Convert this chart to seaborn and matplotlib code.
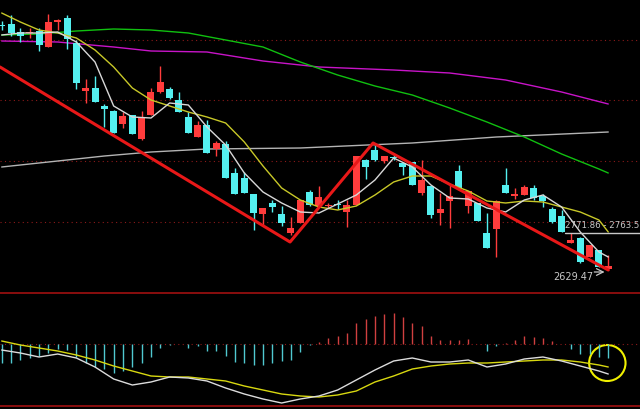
import matplotlib
matplotlib.use("Agg")
import numpy as np
import pandas as pd
import matplotlib.pyplot as plt
from matplotlib.patches import Ellipse
import seaborn as sns

# daily candles (red = up, cyan = down)
opens = [3610, 3614, 3582, 3578, 3586, 3522, 3622, 3638, 3538, 3346, 3358, 3286, 3266, 3214, 3250, 3154,
         3250, 3342, 3354, 3310, 3242, 3162, 3210, 3114, 3134, 3018, 2998, 2934, 2854, 2898, 2854, 2778,
         2818, 2942, 2886, 2888, 2892, 2862, 2890, 3070, 3110, 3066, 3082, 3058, 3062, 2938, 2966, 2858,
         2906, 3026, 2886, 2898, 2778, 2794, 2970, 2926, 2930, 2958, 2926, 2874, 2846, 2738, 2758, 2682,
         2710, 2634]
closes = [3608, 3578, 3566, 3582, 3530, 3622, 3630, 3554, 3378, 3358, 3302, 3274, 3178, 3246, 3174, 3238,
          3342, 3382, 3318, 3262, 3178, 3210, 3098, 3138, 2998, 2934, 2938, 2858, 2878, 2882, 2818, 2798,
          2910, 2890, 2922, 2892, 2890, 2890, 3086, 3042, 3070, 3086, 3080, 3042, 2970, 2990, 2850, 2874,
          2926, 2958, 2946, 2826, 2718, 2906, 2938, 2934, 2962, 2918, 2906, 2822, 2782, 2750, 2662, 2730,
          2642, 2646]
highs = [3626, 3650, 3598, 3598, 3598, 3654, 3634, 3650, 3550, 3394, 3406, 3294, 3270, 3262, 3250, 3266,
         3358, 3446, 3362, 3342, 3262, 3226, 3230, 3146, 3146, 3038, 3022, 2934, 2878, 2910, 2886, 2842,
         2910, 2950, 2966, 2900, 2910, 2910, 3086, 3074, 3138, 3086, 3090, 3058, 3062, 3070, 2966, 2938,
         2970, 3050, 2946, 2898, 2858, 2910, 3038, 2958, 2970, 2970, 2934, 2882, 2870, 2778, 2762, 2730,
         2710, 2690]
lows = [3590, 3566, 3542, 3558, 3506, 3522, 3590, 3514, 3354, 3298, 3302, 3202, 3178, 3198, 3174, 3150,
        3250, 3338, 3314, 3262, 3178, 3162, 3098, 3086, 2998, 2934, 2938, 2790, 2806, 2862, 2806, 2770,
        2818, 2886, 2882, 2878, 2874, 2802, 2890, 2994, 3066, 3058, 3072, 3010, 2970, 2930, 2838, 2810,
        2798, 2954, 2858, 2826, 2718, 2682, 2938, 2914, 2930, 2910, 2882, 2818, 2782, 2738, 2658, 2682,
        2642, 2630]

# moving averages read at every second candle
ma_idx = [0, 2, 4, 6, 8, 10, 12, 14, 16, 18, 20, 22, 24, 26, 28, 30, 32, 34, 36, 38, 40, 42, 44, 46,
          48, 50, 52, 54, 56, 58, 60, 62, 64, 65]
ma5 = [3570, 3578, 3578, 3582, 3542, 3462, 3286, 3242, 3238, 3298, 3290, 3202, 3130, 3018, 2942, 2898,
       2862, 2858, 2894, 2930, 2990, 3078, 3042, 2970, 2918, 2914, 2878, 2862, 2910, 2930, 2882, 2782,
       2702, 2682]
ma10 = [3658, 3622, 3590, 3578, 3558, 3510, 3442, 3358, 3310, 3286, 3262, 3242, 3218, 3142, 3046, 2958,
        2910, 2882, 2870, 2886, 2930, 2982, 3006, 3006, 2974, 2946, 2906, 2898, 2906, 2902, 2882, 2862,
        2830, 2782]
ma60_idx = [0, 4, 8, 12, 16, 20, 24, 28, 32, 36, 40, 44, 48, 52, 56, 60, 64, 65]
ma60 = [3570, 3574, 3586, 3594, 3590, 3578, 3550, 3522, 3462, 3410, 3366, 3330, 3278, 3222, 3162, 3094,
        3034, 3018]
ma120_idx = [0, 6, 12, 16, 22, 28, 34, 42, 48, 54, 60, 65]
ma120 = [3546, 3542, 3522, 3506, 3502, 3466, 3442, 3430, 3418, 3390, 3342, 3294]
ma250_idx = [0, 5, 11, 16, 22, 32, 44, 53, 65]
ma250 = [3042, 3062, 3086, 3102, 3114, 3118, 3138, 3162, 3182]

# hand-drawn trend line
trend_idx = [-0.18, 30.9, 39.8, 65.0]
trend_val = [3442, 2742, 3138, 2630]
grid_levels = [3550, 3310, 3066, 2822]

# MACD panel
macd_hist = [-38, -38, -32, -28, -24, -18, -10, -12, -26, -38, -46, -50, -58, -54, -46, -38,
             -26, -8, -2, 1, -8, -4, -14, -14, -24, -36, -38, -42, -42, -38, -34, -32,
             -16, -1, 4, 12, 16, 22, 42, 50, 56, 60, 62, 54, 42, 36, 16, 8,
             8, 8, 10, 0, -14, -4, 2, 8, 16, 14, 12, 6, 1, -10, -20, -20,
             -26, -28]
dif = [-12, -18, -26, -20, -28, -46, -70, -82, -76, -66, -68, -74, -88, -100, -110, -118, -110, -104,
       -92, -72, -52, -34, -28, -36, -36, -32, -46, -40, -30, -26, -34, -44, -54, -60]
dea = [6, -2, -8, -14, -22, -32, -44, -54, -64, -66, -66, -70, -74, -84, -92, -100, -104, -106, -102,
       -94, -76, -64, -50, -44, -40, -38, -38, -36, -34, -32, -32, -36, -42, -46]

RED = "#ff3c3c"
CYAN = "#54f0f0"

sns.set_theme(style="dark", rc={"axes.facecolor": "black", "figure.facecolor": "black"})

fig = plt.figure(figsize=(6.4, 4.09), dpi=100)
ax = fig.add_axes([0, 117 / 409, 1, 292 / 409])
ax2 = fig.add_axes([0, 0, 1, 117 / 409])

candles = pd.DataFrame({"o": opens, "c": closes, "h": highs, "l": lows})
candles["i"] = np.arange(len(candles))
candles["up"] = candles["c"] >= candles["o"]
candles["col"] = np.where(candles["up"], RED, CYAN)

for y in grid_levels:
    ax.axhline(y, color="#8c1a1a", lw=0.8, ls=(0, (1, 3)))

# moving averages
sns.lineplot(x=ma250_idx, y=ma250, ax=ax, color="#b4b4b4", lw=1.0)
sns.lineplot(x=ma120_idx, y=ma120, ax=ax, color="#c814c8", lw=1.0)
sns.lineplot(x=ma60_idx, y=ma60, ax=ax, color="#10c010", lw=1.0)

# candles
ax.vlines(candles["i"], candles["l"], candles["h"], colors=candles["col"], lw=1.0, zorder=3)
body = (candles["c"] - candles["o"]).abs().clip(lower=3)
bottom = candles[["o", "c"]].min(axis=1)
ax.bar(candles["i"], body, bottom=bottom, width=0.75, color=candles["col"], lw=0, zorder=4)

sns.lineplot(x=ma_idx, y=ma10, ax=ax, color="#c8c828", lw=1.0, zorder=5)
sns.lineplot(x=ma_idx, y=ma5, ax=ax, color="#d8d8d8", lw=1.0, zorder=5)
ax.plot(trend_idx, trend_val, color="#e81818", lw=2.2, zorder=6)

# price labels
ax.plot([60.4, 68.4], [2778, 2778], color="#c8c8c8", lw=1.0, zorder=6)
ax.text(60.4, 2806, "2771.86 - 2763.5", color="#c8c8c8", fontsize=6.2, va="center", ha="left", zorder=7)
ax.text(59.1, 2604, "2629.47", color="#c8c8c8", fontsize=7, va="center", ha="left", zorder=7)
ax.annotate("", xy=(64.9, 2622), xytext=(63.2, 2622),
            arrowprops=dict(arrowstyle="->", color="#c8c8c8", lw=0.9), zorder=7)

ax.set_xlim(-0.18, 68.4)
ax.set_ylim(2542, 3710)

# MACD
ax2.axhline(0, color="#8c1a1a", lw=0.8, ls=(0, (1, 3)))
ax2.axhline(103, color="#a01010", lw=1.2)
ax2.axhline(-124, color="#a01010", lw=1.2)
hist_col = [("#d04040" if v > 0 else "#50c8d0") for v in macd_hist]
ax2.vlines(np.arange(len(macd_hist)), 0, macd_hist, colors=hist_col, lw=1.0)
sns.lineplot(x=ma_idx, y=dea, ax=ax2, color="#d8d810", lw=1.0)
sns.lineplot(x=ma_idx, y=dif, ax=ax2, color="#dcdcdc", lw=1.0)
ax2.add_patch(Ellipse((64.9, -38), 3.9, 72, fill=False, ec="#f0f000", lw=1.5))
ax2.set_xlim(-0.18, 68.4)
ax2.set_ylim(-130, 104)

for a in (ax, ax2):
    a.set_xticks([])
    a.set_yticks([])
    a.set_xlabel("")
    a.set_ylabel("")
    for s in a.spines.values():
        s.set_visible(False)

fig.savefig("out.png", dpi=100, facecolor="black")
